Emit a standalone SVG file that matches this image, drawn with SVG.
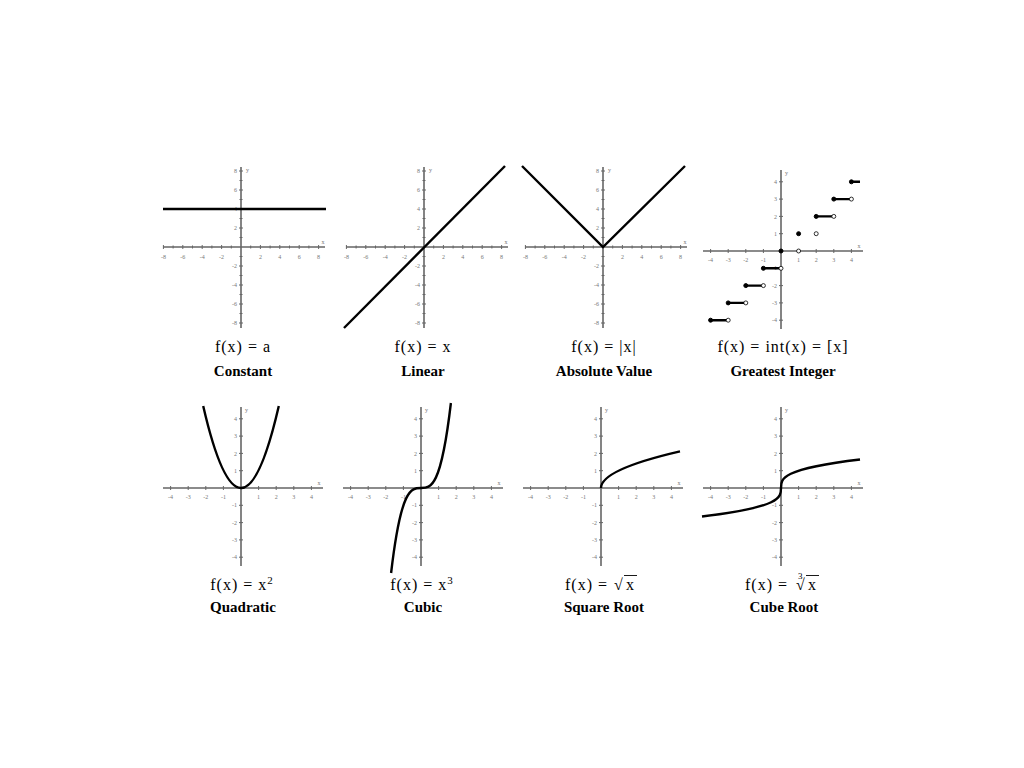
<svg xmlns="http://www.w3.org/2000/svg" width="1024" height="768" viewBox="0 0 1024 768">
<style>
.ax{stroke:#666;stroke-width:1.6;fill:none}
.tk{stroke:#666;stroke-width:1;fill:none}
.cv{stroke:#000;stroke-width:2.4;fill:none}
.tl{font-family:"Liberation Serif",serif;font-size:6px;fill:#777}
.tx{text-anchor:middle}
.ty{text-anchor:end}
.f{font-family:"Liberation Serif",serif;font-size:16px;fill:#000;text-anchor:middle;letter-spacing:1px}
.fs{font-family:"Liberation Serif",serif;font-size:16px;fill:#000;letter-spacing:1px}
.n{font-family:"Liberation Serif",serif;font-size:15px;font-weight:bold;fill:#000;text-anchor:middle}
.fd{fill:#000;stroke:#000}
.od{fill:#fff;stroke:#000;stroke-width:0.8}
</style>
<defs>
<g id="axT">
<path class="ax" d="M-78,0H84M0,-80V81"/>
<path class="tk" d="M-77.6,-2v4M-67.9,-1.5v3M-58.2,-2v4M-48.5,-1.5v3M-38.8,-2v4M-29.1,-1.5v3M-19.4,-2v4M-9.7,-1.5v3M9.7,-1.5v3M19.4,-2v4M29.1,-1.5v3M38.8,-2v4M48.5,-1.5v3M58.2,-2v4M67.9,-1.5v3M77.6,-2v4M-2,-76h4M-1.5,-66.5h3M-2,-57h4M-1.5,-47.5h3M-2,-38h4M-1.5,-28.5h3M-2,-19h4M-1.5,-9.5h3M-1.5,9.5h3M-2,19h4M-1.5,28.5h3M-2,38h4M-1.5,47.5h3M-2,57h4M-1.5,66.5h3M-2,76h4"/>
<g class="tl tx"><text x="-77.6" y="12">-8</text><text x="-58.2" y="12">-6</text><text x="-38.8" y="12">-4</text><text x="-19.4" y="12">-2</text><text x="19.4" y="12">2</text><text x="38.8" y="12">4</text><text x="58.2" y="12">6</text><text x="77.6" y="12">8</text><text x="82" y="-3">x</text></g>
<g class="tl ty"><text x="-4" y="-74">8</text><text x="-4" y="-55">6</text><text x="-4" y="-36">4</text><text x="-4" y="-17">2</text><text x="-4" y="21">-2</text><text x="-4" y="40">-4</text><text x="-4" y="59">-6</text><text x="-4" y="78">-8</text><text x="8" y="-75">y</text></g>
</g>
<g id="axB">
<path class="ax" d="M-78,0H82M0,-81V78"/>
<path class="tk" d="M-70.4,-2v4M-52.8,-2v4M-35.2,-2v4M-17.6,-2v4M17.6,-2v4M35.2,-2v4M52.8,-2v4M70.4,-2v4M-2,-69.2h4M-2,-51.9h4M-2,-34.6h4M-2,-17.3h4M-2,17.3h4M-2,34.6h4M-2,51.9h4M-2,69.2h4"/>
<g class="tl tx"><text x="-70.4" y="11">-4</text><text x="-52.8" y="11">-3</text><text x="-35.2" y="11">-2</text><text x="-17.6" y="11">-1</text><text x="17.6" y="11">1</text><text x="35.2" y="11">2</text><text x="52.8" y="11">3</text><text x="70.4" y="11">4</text><text x="78" y="-3">x</text></g>
<g class="tl ty"><text x="-4" y="-67">4</text><text x="-4" y="-50">3</text><text x="-4" y="-32">2</text><text x="-4" y="-15">1</text><text x="-4" y="19">-1</text><text x="-4" y="37">-2</text><text x="-4" y="54">-3</text><text x="-4" y="71">-4</text><text x="7" y="-76">y</text></g>
</g>
</defs>
<g id="constant"><use href="#axT" x="241" y="247"/><path class="cv" d="M163,209H326"/><text class="f" x="243" y="352">f(x) = a</text><text class="n" x="243" y="376">Constant</text></g>
<g id="linear"><use href="#axT" x="424" y="247"/><path class="cv" d="M344,328L505,166"/><text class="f" x="423" y="352">f(x) = x</text><text class="n" x="423" y="376">Linear</text></g>
<g id="absolute"><use href="#axT" x="603" y="247"/><path class="cv" d="M522,166L603,247L685,166"/><text class="f" x="604" y="352">f(x) = |x|</text><text class="n" x="604" y="376">Absolute Value</text></g>
<g id="greatest">
<use href="#axB" x="781" y="251"/>
<path class="cv" stroke-width="1.6" d="M710.6,320.2H728.2M728.2,302.9H745.8M745.8,285.6H763.4M763.4,268.3H781M816.2,216.4H833.8M833.8,199.1H851.4M851.4,181.8H860"/>
<g class="fd"><circle cx="710.6" cy="320.2" r="2"/><circle cx="728.2" cy="302.9" r="2"/><circle cx="745.8" cy="285.6" r="2"/><circle cx="763.4" cy="268.3" r="2"/><circle cx="781" cy="251" r="2"/><circle cx="798.6" cy="233.7" r="2"/><circle cx="816.2" cy="216.4" r="2"/><circle cx="833.8" cy="199.1" r="2"/><circle cx="851.4" cy="181.8" r="2"/></g>
<g class="od"><circle cx="728.2" cy="320.2" r="2"/><circle cx="745.8" cy="302.9" r="2"/><circle cx="763.4" cy="285.6" r="2"/><circle cx="781" cy="268.3" r="2"/><circle cx="798.6" cy="251" r="2"/><circle cx="816.2" cy="233.7" r="2"/><circle cx="833.8" cy="216.4" r="2"/><circle cx="851.4" cy="199.1" r="2"/></g>
<text class="f" x="783" y="352">f(x) = int(x) = [x]</text><text class="n" x="783" y="376">Greatest Integer</text>
</g>
<g id="quadratic"><use href="#axB" x="241" y="488"/><path class="cv" d="M203.2,406Q241,570 278.8,406"/><text class="f" x="242" y="590">f(x) = x<tspan dy="-6" font-size="11">2</tspan></text><text class="n" x="243" y="612">Quadratic</text></g>
<g id="cubic"><use href="#axB" x="421" y="488"/><path class="cv" d="M391.1,573C411,403 431,573 450.9,403"/><text class="f" x="422" y="590">f(x) = x<tspan dy="-6" font-size="11">3</tspan></text><text class="n" x="423" y="612">Cubic</text></g>
<g id="sqrt"><use href="#axB" x="601" y="488"/><path class="cv" d="M601,488Q601,469.6 680,451.3"/><text class="fs" x="565" y="590">f(x) =</text><text class="fs" x="614" y="590">√</text><text class="fs" x="626" y="590">x</text><path d="M624,575.5H637" stroke="#000" stroke-width="0.9"/><text class="n" x="604" y="612">Square Root</text></g>
<g id="cbrt"><use href="#axB" x="781" y="488"/><path class="cv" d="M702,516.5C860,497.5 702,478.5 860,459.5"/><text class="fs" x="745" y="590">f(x) =</text><text x="798" y="579" font-family="Liberation Serif,serif" font-size="9">3</text><text class="fs" x="796" y="590">√</text><text class="fs" x="808" y="590">x</text><path d="M806,575.5H819" stroke="#000" stroke-width="0.9"/><text class="n" x="784" y="612">Cube Root</text></g>
</svg>
